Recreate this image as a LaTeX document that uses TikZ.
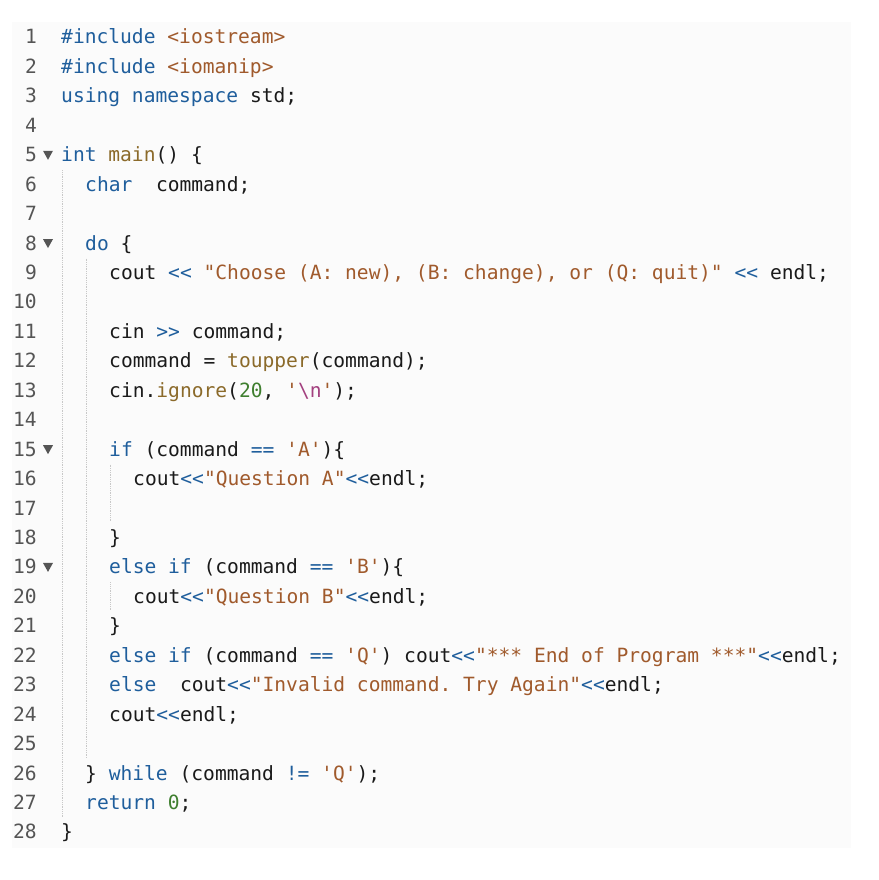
\documentclass[tikz,border=0pt]{standalone}
\usepackage{fontspec}
\setmonofont{DejaVu Sans Mono}
\definecolor{bgc}{HTML}{FBFBFB}
\definecolor{kw}{HTML}{1F5E9C}
\definecolor{str}{HTML}{A05A2C}
\definecolor{num}{HTML}{3F7F2F}
\definecolor{esc}{HTML}{A3407F}
\definecolor{fn}{HTML}{8B6A2A}
\definecolor{txt}{HTML}{1A1A1A}
\definecolor{lnc}{HTML}{555555}
\definecolor{guide}{HTML}{C8C8C8}
\newcommand{\K}[1]{\textcolor{kw}{#1}}
\newcommand{\Sx}[1]{\textcolor{str}{#1}}
\newcommand{\N}[1]{\textcolor{num}{#1}}
\newcommand{\E}[1]{\textcolor{esc}{#1}}
\newcommand{\F}[1]{\textcolor{fn}{#1}}
\begin{document}
\begin{tikzpicture}[x=1pt,y=-1pt,
  code/.style={anchor=base west,inner sep=0pt,font=\ttfamily\fontsize{19.6}{24}\selectfont,text=txt},
  lnum/.style={anchor=base east,inner sep=0pt,font=\ttfamily\fontsize{19.6}{24}\selectfont,text=lnc},
  guideline/.style={draw=guide,densely dotted,line width=0.8pt},
  fold/.style={fill=lnc,draw=none}]
\useasboundingbox (0,0) rectangle (878,880);
\fill[bgc] (12,22) rectangle (851,848);
\foreach \i in {1,...,28}{
  \node[lnum] (ln\i) at (37,{37+29.44*(\i-1)+7}) {\i};
}
\newcommand{\ly}[1]{37+29.44*(#1-1)+7}
% fold triangles
\foreach \i in {5,8,15,19}{
  \fill[fold] (43,{37+29.44*(\i-1)-4}) -- (53,{37+29.44*(\i-1)-4}) -- (48,{37+29.44*(\i-1)+5}) -- cycle;
}
% indent guides
\draw[guideline] (62,{37+29.44*5-14}) -- (62,{37+29.44*26+14});
\draw[guideline] (86,{37+29.44*8-14}) -- (86,{37+29.44*24+14});
\draw[guideline] (110,{37+29.44*15-14}) -- (110,{37+29.44*16+14});
\draw[guideline] (110,{37+29.44*19-14}) -- (110,{37+29.44*19+14});
% code
\node[code] (c1) at (61,{\ly{1}}) {\K{\#include} \Sx{<iostream>}};
\node[code] (c2) at (61,{\ly{2}}) {\K{\#include} \Sx{<iomanip>}};
\node[code] (c3) at (61,{\ly{3}}) {\K{using namespace} std;};
\node[code] (c5) at (61,{\ly{5}}) {\K{int} \F{main}() \{};
\node[code] (c6) at (85,{\ly{6}}) {\K{char}\ \ command;};
\node[code] (c8) at (85,{\ly{8}}) {\K{do} \{};
\node[code] (c9) at (109,{\ly{9}}) {cout \K{<<} \Sx{"Choose (A: new), (B: change), or (Q: quit)"} \K{<<} endl;};
\node[code] (c11) at (109,{\ly{11}}) {cin \K{>>} command;};
\node[code] (c12) at (109,{\ly{12}}) {command = \F{toupper}(command);};
\node[code] (c13) at (109,{\ly{13}}) {cin.\F{ignore}(\N{20}, \Sx{'}\E{\textbackslash n}\Sx{'});};
\node[code] (c15) at (109,{\ly{15}}) {\K{if} (command \K{==} \Sx{'A'})\{};
\node[code] (c16) at (133,{\ly{16}}) {cout\K{<<}\Sx{"Question A"}\K{<<}endl;};
\node[code] (c18) at (109,{\ly{18}}) {\}};
\node[code] (c19) at (109,{\ly{19}}) {\K{else if} (command \K{==} \Sx{'B'})\{};
\node[code] (c20) at (133,{\ly{20}}) {cout\K{<<}\Sx{"Question B"}\K{<<}endl;};
\node[code] (c21) at (109,{\ly{21}}) {\}};
\node[code] (c22) at (109,{\ly{22}}) {\K{else if} (command \K{==} \Sx{'Q'}) cout\K{<<}\Sx{"*** End of Program ***"}\K{<<}endl;};
\node[code] (c23) at (109,{\ly{23}}) {\K{else}\ \ cout\K{<<}\Sx{"Invalid command. Try Again"}\K{<<}endl;};
\node[code] (c24) at (109,{\ly{24}}) {cout\K{<<}endl;};
\node[code] (c26) at (85,{\ly{26}}) {\} \K{while} (command \K{!=} \Sx{'Q'});};
\node[code] (c27) at (85,{\ly{27}}) {\K{return} \N{0};};
\node[code] (c28) at (61,{\ly{28}}) {\}};
\end{tikzpicture}
\end{document}
